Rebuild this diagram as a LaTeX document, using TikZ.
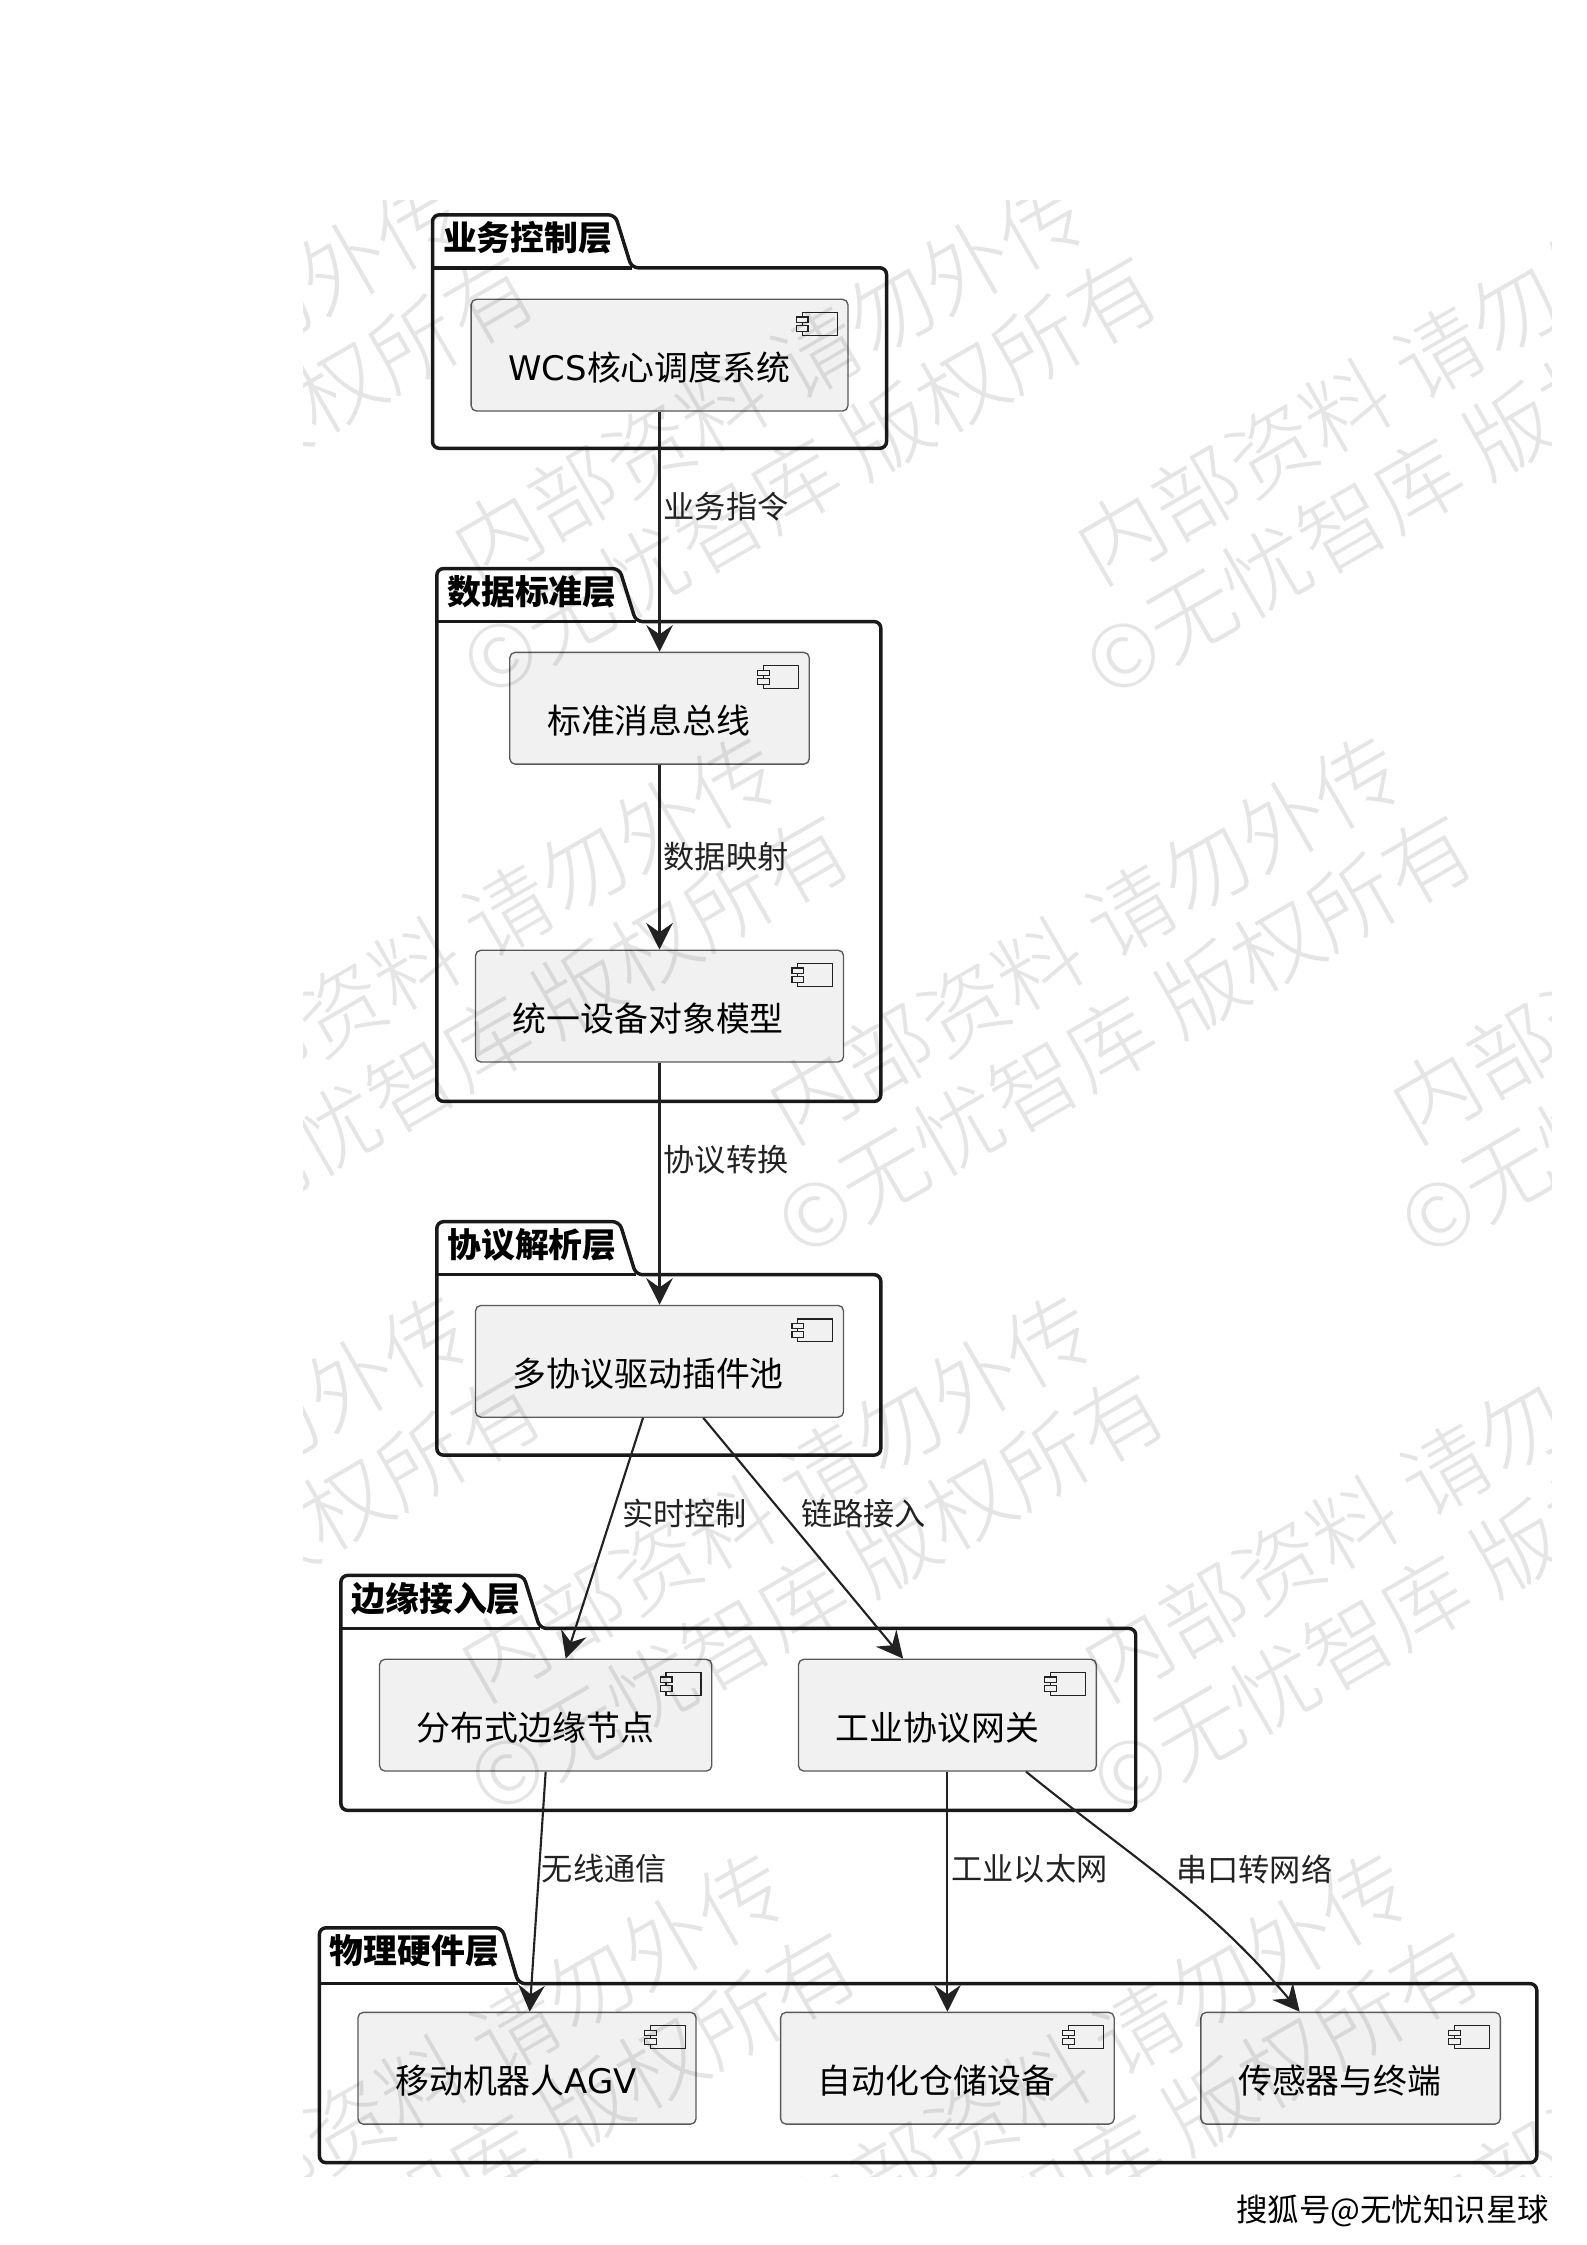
\documentclass[tikz,border=0pt]{standalone}
\usepackage{fontspec}
\setmainfont{Noto Sans CJK SC}
\newfontfamily\latina{DejaVu Sans}
\newfontface\ligera{Noto Sans CJK SC Light}
\usetikzlibrary{arrows.meta,positioning}

\definecolor{fondo}{HTML}{F1F1F1}
\definecolor{trazo}{HTML}{222222}

\tikzset{
    componente/.style={draw=trazo!75, line width=0.5pt, fill=fondo, rounded corners=2pt, align=left, inner xsep=14pt, inner ysep=0pt, minimum height=41.9pt, text height=19pt, text depth=0pt, font=\fontsize{12.7}{14}\selectfont},
    capa/.style={draw=black!90, line width=1.3pt, rounded corners=2.5pt},
    titulo/.style={anchor=west, inner sep=0pt, font=\fontsize{12.7}{14}\selectfont\bfseries},
    etiqueta/.style={anchor=west, inner sep=0pt, text=trazo, font=\fontsize{11.7}{13}\selectfont},
    flecha/.style={-{Stealth[length=10pt, width=10pt, inset=3.5pt]}, line width=0.8pt, draw=trazo},
    icono/.style={draw=trazo, line width=0.45pt, fill=fondo},
    marca/.style={rotate=30, align=center, text=black, text opacity=0.1, inner sep=0pt, font=\fontsize{32.6}{38.6}\selectfont\ligera}
}

% paquete con pestana: nombre, titulo, x izq, x der, y pestana, y cuerpo, y base
\newcommand{\capa}[7]{
    \draw[capa] (#3,#6) -- (#3,#5) -- (#3+127.5,#5) -- (#3+139,#6) -- (#4,#6) -- (#4,#7) -- (#3,#7) -- cycle;
    \draw[capa, rounded corners=0pt] (#3,#6) -- (#3+139,#6);
    \node[titulo] (#1) at (#3+7,#5+16) {#2};
}

\begin{document}
\begin{tikzpicture}[
        x=0.5371pt, y=-0.5371pt,
        node distance=90pt and 32pt
    ]
    \useasboundingbox (0,0) rectangle (1108,1567.5);

    \capa{capa-negocio}{业务控制层}{302}{619}{150}{187}{313}
    \capa{capa-datos}{数据标准层}{305}{615}{397}{434}{769}
    \capa{capa-protocolo}{协议解析层}{305}{615}{853}{890}{1016}
    \capa{capa-borde}{边缘接入层}{238}{793}{1100}{1137}{1264}
    \capa{capa-fisica}{物理硬件层}{223}{1073}{1346}{1385}{1510}

    \node[componente, text width=113.3pt] (wcs) at (460.5,248) {{\latina WCS}核心调度系统};
    \node[componente, text width=84.3pt, below=of wcs] (bus) {标准消息总线};
    \node[componente, text width=110pt, below=69.3pt of bus] (modelo) {统一设备对象模型};
    \node[componente, text width=110pt, below=90.8pt of modelo] (drivers) {多协议驱动插件池};

    \node[componente, text width=96.6pt, below=90.3pt of drivers, xshift=-42.7pt] (borde) {分布式边缘节点};
    \node[componente, text width=83.7pt, right=of borde] (pasarela) {工业协议网关};

    \node[componente, text width=98.8pt, below=of borde, xshift=-7pt] (agv) {移动机器人{\latina AGV}};
    \node[componente, text width=97.1pt, below=of pasarela] (almacen) {自动化仓储设备};
    \node[componente, text width=84.3pt, right=of almacen] (sensor) {传感器与终端};

    \foreach \n in {wcs,bus,modelo,drivers,borde,pasarela,agv,almacen,sensor} {
        \draw[icono] ([xshift=-4.3pt,yshift=-5.3pt]\n.north east) rectangle ([xshift=-17.4pt,yshift=-13.8pt]\n.north east);
        \draw[icono] ([xshift=-15.2pt,yshift=-6.9pt]\n.north east) rectangle ([xshift=-19.6pt,yshift=-9pt]\n.north east);
        \draw[icono] ([xshift=-15.2pt,yshift=-10.1pt]\n.north east) rectangle ([xshift=-19.6pt,yshift=-12.2pt]\n.north east);
    }

    \draw[flecha] (wcs) -- (bus);
    \draw[flecha] (bus) -- (modelo);
    \draw[flecha] (modelo) -- (drivers);
    \draw[flecha] ([xshift=-6.2pt]drivers.south) -- ([xshift=7.5pt]borde.north);
    \draw[flecha] ([xshift=16.4pt]drivers.south) -- ([xshift=-16.6pt]pasarela.north);
    \draw[flecha] (borde.south) -- ([xshift=1pt]agv.north);
    \draw[flecha] (pasarela) -- (almacen);
    \draw[flecha] ([xshift=29.5pt]pasarela.south) to[out=-39, in=130] ([xshift=-19.1pt]sensor.north);

    \node[etiqueta] (et-negocio) at (463,354) {业务指令};
    \node[etiqueta] (et-mapeo) at (463,598) {数据映射};
    \node[etiqueta] (et-conversion) at (463,810) {协议转换};
    \node[etiqueta] (et-tiempo) at (434,1057) {实时控制};
    \node[etiqueta] (et-enlace) at (559,1057) {链路接入};
    \node[etiqueta] (et-radio) at (378,1305) {无线通信};
    \node[etiqueta] (et-ethernet) at (664,1305) {工业以太网};
    \node[etiqueta] (et-serie) at (821,1305) {串口转网络};

    \node[anchor=east, inner sep=0pt, font=\fontsize{11.8}{14}\selectfont] (pie) at (1082,1544) {搜狐号@无忧知识星球};

    \begin{scope}
        \clip (212,140) rectangle (1083,1520);
        \foreach \i in {-3,...,3} {
            \foreach \j in {-1,...,4} {
                \node[marca] (marca-\i-\j) at ({990.4+435*\i-215*\j},{296.2+390*\j}) {内部资料 请勿外传\\©无忧智库 版权所有\hspace*{10pt}};
            }
        }
    \end{scope}
\end{tikzpicture}
\end{document}
